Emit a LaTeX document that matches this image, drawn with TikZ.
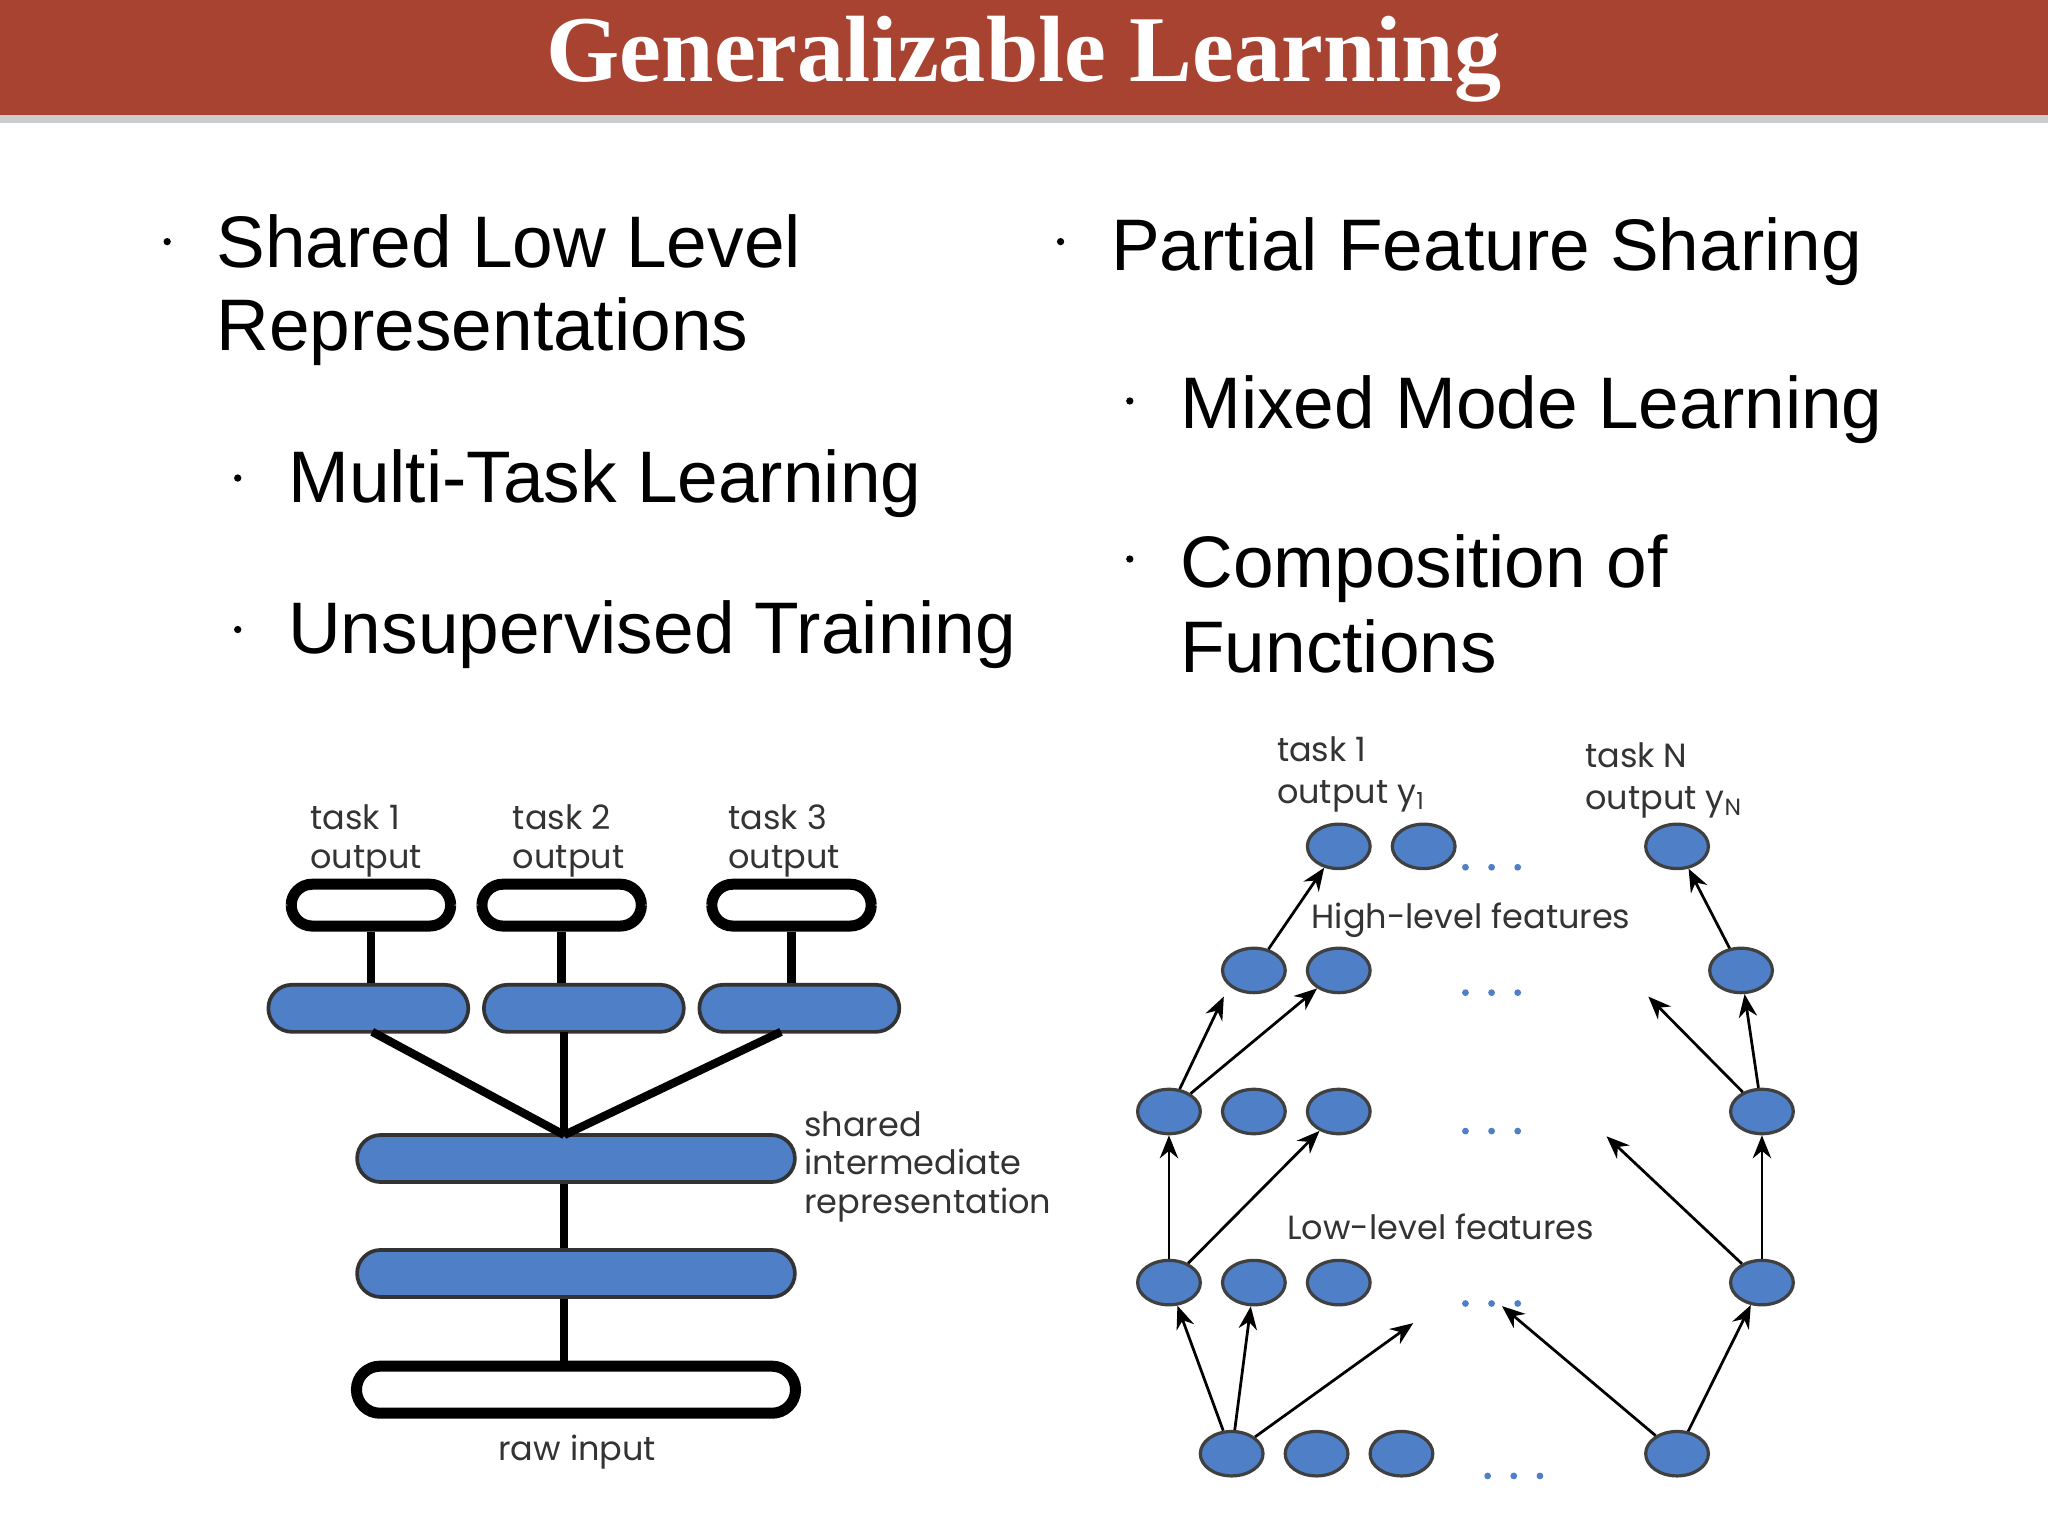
\documentclass[tikz,border=0pt]{standalone}
\usepackage{fontspec}
\setmainfont{Liberation Sans}
\newfontfamily\ttl{Liberation Serif}
\newfontfamily\lbl{Poppins}
\usetikzlibrary{shapes.geometric,arrows.meta}
\definecolor{bar}{HTML}{A84332}
\definecolor{nb}{HTML}{4F7FC6}
\begin{document}
\begin{tikzpicture}[x=0.01cm,y=-0.01cm,
 big/.style={anchor=base west,font=\fontsize{15.9}{19}\selectfont,inner sep=0},
 lab/.style={anchor=base west,font=\lbl\fontsize{7.3}{9}\selectfont,inner sep=0,text=black!80},
 outp/.style={draw=black,line width=2.4pt,rounded corners=1.6mm,fill=white,minimum height=3.2mm,inner sep=0},
 bbar/.style={draw=black!80,line width=0.8pt,rounded corners=1.8mm,fill=nb,minimum height=3.6mm,inner sep=0},
 nd/.style={ellipse,draw=black!75,line width=0.7pt,fill=nb,minimum width=4.8mm,minimum height=3.4mm,inner sep=0},
 con/.style={line width=1.8pt,black},
 ar/.style={-{Stealth[length=5pt,width=4pt]},line width=0.6pt}]
\useasboundingbox (0,0) rectangle (1568,1176);
\fill[black!20] (0,86) rectangle (1568,94);
\fill[bar] (0,0) rectangle (1568,88);
\node[text=white,font=\ttl\bfseries\fontsize{20.5}{22}\selectfont] (title) at (784,45) {Generalizable Learning};
% bullets
\foreach \x/\y in {128/185,182/366,182/482,812/185,865/307,865/428} \fill (\x,\y) circle (2.8);
\node[big] (b1) at (165,205) {Shared Low Level};
\node[big] (b1b) at (165,268) {Representations};
\node[big] (b2) at (220,385) {Multi-Task Learning};
\node[big] (b3) at (220,500) {Unsupervised Training};
\node[big] (b4) at (850,207) {Partial Feature Sharing};
\node[big] (b5) at (903,328) {Mixed Mode Learning};
\node[big] (b6) at (903,450) {Composition of};
\node[big] (b6b) at (903,515) {Functions};
% left diagram
\node[outp,minimum width=12.2mm] (o1) at (284,693) {};
\node[outp,minimum width=12.2mm] (o2) at (430,693) {};
\node[outp,minimum width=12.2mm] (o3) at (606,693) {};
\node[bbar,minimum width=15.3mm] (t1) at (282,772) {};
\node[bbar,minimum width=15.3mm] (t2) at (447,772) {};
\node[bbar,minimum width=15.3mm] (t3) at (612,772) {};
\node[bbar,minimum width=33.5mm] (sh) at (441,887) {};
\node[bbar,minimum width=33.5mm] (sh2) at (441,975) {};
\node[outp,minimum width=33.6mm,minimum height=3.6mm,rounded corners=1.8mm] (raw) at (441,1064) {};
\draw[con] (o1.south) -- (t1.north-|o1.south);
\draw[con] (o2.south) -- (t2.north-|o2.south);
\draw[con] (o3.south) -- (t3.north-|o3.south);
\coordinate (m) at (432,869);
\draw[con] (285,790) -- (m); \draw[con] (432,790) -- (m); \draw[con] (598,790) -- (m);
\draw[con] (sh.south-|m) -- (sh2.north-|m);
\draw[con] (sh2.south-|m) -- (raw.north-|m);
\node[lab] (l1) at (237,635) {task 1}; \node[lab] (l1b) at (237,665) {output};
\node[lab] (l2) at (392,635) {task 2}; \node[lab] (l2b) at (392,665) {output};
\node[lab] (l3) at (557,635) {task 3}; \node[lab] (l3b) at (557,665) {output};
\node[lab] (s1) at (615,870) {shared};
\node[lab] (s2) at (615,899) {intermediate};
\node[lab] (s3) at (615,929) {representation};
\node[lab,anchor=base] (ri) at (442,1118) {raw input};
% right diagram
\node[nd] (a1) at (1025,648) {}; \node[nd] (a2) at (1090,648) {}; \node[nd] (aN) at (1284,648) {};
\node[nd] (b1n) at (960,743) {}; \node[nd] (b2n) at (1025,743) {}; \node[nd] (bN) at (1333,743) {};
\node[nd] (c1) at (895,851) {}; \node[nd] (c2) at (960,851) {}; \node[nd] (c3) at (1025,851) {}; \node[nd] (cN) at (1349,851) {};
\node[nd] (d1) at (895,982) {}; \node[nd] (d2) at (960,982) {}; \node[nd] (d3) at (1025,982) {}; \node[nd] (dN) at (1349,982) {};
\node[nd] (e1) at (943,1113) {}; \node[nd] (e2) at (1008,1113) {}; \node[nd] (e3) at (1073,1113) {}; \node[nd] (eN) at (1284,1113) {};
\foreach \x/\y in {1122/664,1122/760,1122/866,1122/998,1139/1130}
 \foreach \k in {0,20,40} \fill[nb] (\x+\k,\y) circle (2.6);
\coordinate (f1) at (937,763); \coordinate (f2) at (1262,763);
\coordinate (f3) at (1230,870); \coordinate (f4) at (1082,1013); \coordinate (f5) at (1150,1000);
\draw[ar] (b1n) -- (a1);
\draw[ar] (c1) -- (f1); \draw[ar] (c1) -- (b2n);
\draw[ar] (bN) -- (aN);
\draw[ar] (cN) -- (f2); \draw[ar] (cN) -- (bN);
\draw[ar] (d1) -- (c1); \draw[ar] (d1) -- (c3);
\draw[ar] (dN) -- (cN); \draw[ar] (dN) -- (f3);
\draw[ar] (e1) -- (d1); \draw[ar] (e1) -- (d2); \draw[ar] (e1) -- (f4);
\draw[ar] (eN) -- (f5); \draw[ar] (eN) -- (dN);
\node[lab] (r1) at (977,583) {task 1}; \node[lab] (r1b) at (977,615) {output y\textsubscript{1}};
\node[lab] (r2) at (1213,588) {task N}; \node[lab] (r2b) at (1213,620) {output y\textsubscript{N}};
\node[lab,fill=white,inner sep=1pt] (hl) at (1000,711) {High-level features};
\node[lab] (ll) at (985,949) {Low-level features};
\end{tikzpicture}
\end{document}
